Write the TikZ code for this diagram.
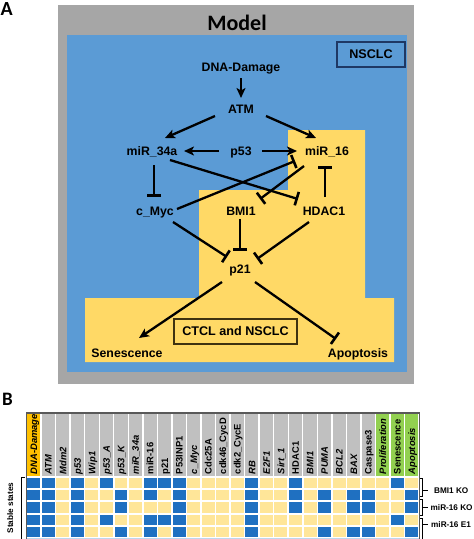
\documentclass[tikz,border=0pt]{standalone}
\usepackage{fontspec}
\setmainfont{Liberation Sans}
\newfontfamily\calib{Carlito}
\usetikzlibrary{arrows.meta,calc}
\definecolor{mgray}{HTML}{A6A6A6}
\definecolor{mblue}{HTML}{5B9BD5}
\definecolor{myell}{HTML}{FFD966}
\definecolor{navy}{HTML}{1F3864}
\definecolor{ctclb}{HTML}{3F3210}
\definecolor{cblue}{HTML}{1F70C1}
\definecolor{cyel}{HTML}{FFE699}
\definecolor{hgray}{HTML}{C0C0C0}
\definecolor{horange}{HTML}{FFC000}
\definecolor{hgreen}{HTML}{92D050}
\definecolor{tborder}{HTML}{595959}
\definecolor{lblue}{HTML}{BDD7EE}
\begin{document}
\begin{tikzpicture}[x=1pt,y=-1pt,
  lbl/.style={font=\fontsize{12.3}{14}\selectfont\bfseries, text height=8.8pt, text depth=0pt, inner sep=0pt},
  act/.style={line width=2.3pt, -{Stealth[length=10pt,width=9pt,inset=2.5pt]}},
  inh/.style={line width=2.3pt, -{Bar[width=14pt,line width=2.6pt]}},
  boxlbl/.style={font=\fontsize{12.6}{14}\selectfont\bfseries, text height=8.8pt, text depth=0pt, inner sep=0pt, line width=1.3pt},
  hdr/.style={font=\fontsize{9.4}{11}\selectfont\bfseries, text height=6.8pt, text depth=0pt, inner sep=0.5pt, rotate=90, anchor=west},
  side/.style={font=\fontsize{8.2}{10}\selectfont\bfseries, text height=6pt, text depth=0pt, inner sep=0pt},
  brk/.style={line width=0.9pt, black},
  panel/.style={font=\calib\bfseries\fontsize{20}{22}\selectfont, inner sep=0pt, anchor=base west}
]
\useasboundingbox (0,0) rectangle (474,539);
\fill[white] (0,0) rectangle (474,539);

% ---------------- Panel A ----------------
\node[panel] (labA) at (0.5,15) {A};
\fill[mgray] (58,5) rectangle (414,384);
\fill[mblue] (67,35) rectangle (407,372);
\fill[myell] (288,130) -- (365,130) -- (365,298) -- (394,298) -- (394,362)
  -- (85,362) -- (85,298) -- (199,298) -- (199,190) -- (288,190) -- cycle;
\node[font=\calib\bfseries\fontsize{22}{24}\selectfont, inner sep=0pt, anchor=base] (model) at (237,30) {Model};

\node[boxlbl, draw=navy, fill=mblue, minimum width=68pt, minimum height=25pt] (nsclc) at (371,54.5) {NSCLC};
\node[boxlbl, draw=ctclb, fill=myell, minimum width=123pt, minimum height=25pt] (ctcl) at (235.5,331.5) {CTCL and NSCLC};

\node[lbl] (dna) at (241,67) {DNA-Damage};
\node[lbl] (atm) at (241,109) {ATM};
\node[lbl] (m34) at (152,151) {miR\_34a};
\node[lbl] (p53) at (241,151) {p53};
\node[lbl] (m16) at (327,151) {miR\_16};
\node[lbl] (myc) at (155,211) {c\_Myc};
\node[lbl] (bmi) at (241,211) {BMI1};
\node[lbl] (hdac) at (324,211) {HDAC1};
\node[lbl] (p21) at (240,269) {p21};
\node[lbl] (sen) at (127,353) {Senescence};
\node[lbl] (apo) at (358,353) {Apoptosis};

\draw[act] ($(dna)+(0,11)$) -- ($(atm)+(0,-11)$);
\draw[act] ($(atm)+(-26,7)$) -- ($(m34)+(13,-13)$);
\draw[act] ($(atm)+(25,7)$) -- ($(m16)+(-11,-13)$);
\draw[act] ($(p53)+(-22,0)$) -- ($(m34)+(32,0)$);
\draw[act] ($(p53)+(21,0)$) -- ($(m16)+(-30,0)$);
\draw[inh] ($(m34)+(2,14)$) -- ($(myc)+(-1,-14)$);
\draw[inh] ($(hdac)+(1,-14)$) -- ($(m16)+(-2,15)$);
\draw[inh] ($(myc)+(22,-2)$) -- ($(m16)+(-32,10)$);
\draw[inh] ($(m16)+(-23,15)$) -- ($(bmi)+(19,-12)$);
\draw[inh] ($(m34)+(18,9)$) -- ($(hdac)+(-26,-12)$);
\draw[inh] ($(myc)+(18,11)$) -- ($(p21)+(-13,-12)$);
\draw[inh] ($(bmi)+(-1,8)$) -- ($(p21)+(0,-18)$);
\draw[inh] ($(hdac)+(-15,11)$) -- ($(p21)+(17,-10)$);
\draw[act] ($(p21)+(-18,13)$) -- ($(sen)+(12,-15)$);
\draw[inh] ($(p21)+(15,13)$) -- ($(apo)+(-22,-14)$);

% ---------------- Panel B ----------------
\node[panel, font=\calib\bfseries\fontsize{19}{21}\selectfont] (labB) at (2,405) {B};

\def\xl{26.5}
\def\cw{14.54}
% header cells
\foreach \i in {1,...,27}{
  \ifnum\i=1 \def\hc{horange}\else\ifnum\i>24 \def\hc{hgreen}\else\def\hc{hgray}\fi\fi
  \fill[\hc] ({\xl+(\i-1)*\cw+0.7},413.5) rectangle ({\xl+\i*\cw-0.7},476.3);
}
% header texts
\foreach \t/\f [count=\i] in {DNA-Damage/\itshape, ATM/\itshape, Mdm2/\itshape, p53/\itshape,
  Wip1/\itshape, p53\_A/\itshape, p53\_K/\itshape, miR\_34a/\itshape, miR-16/\upshape,
  p21/\upshape, P53INP1/\upshape, c\_Myc/\itshape, Cdc25A/\upshape, cdk46\_CycD/\upshape,
  cdk2\_CycE/\upshape, RB/\itshape, E2F1/\itshape, Sirt\_1/\itshape, HDAC1/\upshape,
  BMI1/\itshape, PUMA/\itshape, BCL2/\itshape, BAX/\itshape, Caspase3/\upshape,
  Proliferation/\itshape, Senescence/\upshape, Apoptosis/\itshape}{
  \node[hdr] (h\i) at ({\xl+(\i-0.5)*\cw},474.8) {\f\t};
}
% data cells
\fill[lblue] (27,537.6) rectangle (419,539);
\foreach \row [count=\ri] in {
  {1,1,0,1,0,1,0,0,1,1,1,0,0,0,0,1,0,0,1,0,0,0,0,0,0,1,0},
  {1,1,0,1,0,0,1,0,1,0,1,0,0,0,0,1,0,0,1,0,1,0,1,1,0,0,1},
  {1,1,0,1,0,0,1,0,0,0,1,0,0,0,0,1,0,0,1,0,1,0,1,1,0,0,1},
  {1,1,0,1,0,1,0,0,1,1,1,0,0,0,0,1,0,0,0,0,0,0,0,0,0,1,0},
  {1,1,0,1,0,0,1,0,1,0,1,0,0,0,0,1,0,0,0,0,1,0,1,1,0,0,1}}{
  \foreach \v [count=\ci] in \row {
    \ifnum\v=1 \def\cc{cblue}\else\def\cc{cyel}\fi
    \fill[\cc] ({\xl+(\ci-1)*\cw+0.8},{477.8+(\ri-1)*12.25}) rectangle ({\xl+\ci*\cw-0.8},{488.2+(\ri-1)*12.25});
  }
}
\draw[tborder, line width=1.2pt] (26.5,539) -- (26.5,413) -- (419.2,413) -- (419.2,539);

% left bracket and label
\draw[brk] (24.5,477.5) -- (21,477.5) -- (21,539);
\node[side, rotate=90] (stable) at (10,508) {Stable states};

% right brackets and labels
\draw[brk] (420,478) -- (422.7,478) -- (422.7,496) -- (420,496);
\draw[brk] (422.7,490) -- (427.5,490);
\draw[brk] (420,499.5) -- (422.7,499.5) -- (422.7,515.5) -- (420,515.5);
\draw[brk] (422.7,507) -- (427.5,507);
\draw[brk] (420,518.5) -- (422.7,518.5) -- (422.7,539);
\draw[brk] (422.7,524) -- (427.5,524);
\node[side, anchor=west] (k1) at (434,490) {BMI1 KO};
\node[side, anchor=west] (k2) at (430.5,507) {miR-16 KO};
\node[side, anchor=west] (k3) at (431,524) {miR-16 E1};
\end{tikzpicture}
\end{document}
